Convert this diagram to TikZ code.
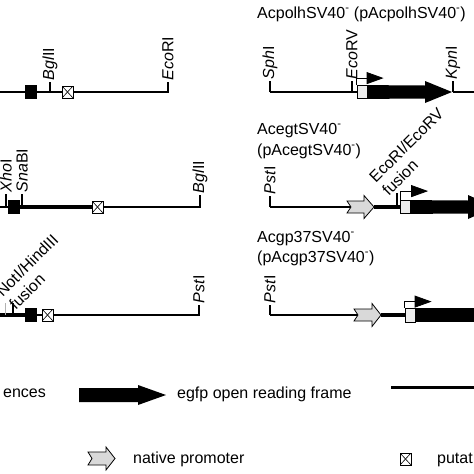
\documentclass[tikz,border=0pt]{standalone}
\usepackage{fontspec}
\setmainfont{Liberation Sans}
\usetikzlibrary{positioning, arrows.meta}

\begin{document}
\begin{tikzpicture}[x=1pt, y=-1pt, font=\fontsize{16}{18.5}\selectfont,
        map/.style={line width=1.6pt},
        thick map/.style={line width=3.5pt},
        site/.style={rotate=90, anchor=west, inner sep=1pt},
        fusion/.style={rotate=45, anchor=south west, align=left, inner sep=0pt},
        title/.style={anchor=base west, inner sep=0pt},
        blkbox/.style={rectangle, draw, fill=black, minimum width=11pt, minimum height=13pt, inner sep=0pt},
        leadbox/.style={rectangle, draw, line width=0.8pt, fill=gray!15, minimum width=10pt, minimum height=13pt, inner sep=0pt},
        termbox/.style={rectangle, draw, line width=0.8pt, fill=white, minimum width=11pt, minimum height=12pt, inner sep=0pt,
            path picture={\draw[line width=0.6pt] (path picture bounding box.south west) -- (path picture bounding box.north east)
                (path picture bounding box.north west) -- (path picture bounding box.south east);}},
        promo/.style={draw, line width=0.8pt, fill=gray!30},
        start/.style={line width=0.8pt, -{Triangle[length=17pt, width=12pt]}}]
        \useasboundingbox (0,0) rectangle (474,474);
        \clip (0,0) rectangle (474,474);

        % row 1, left
        \coordinate (r1a) at (0,92);
        \node at (30.5,92) [blkbox] (blk1) {};
        \coordinate (bgl1) at (50,92);
        \node at (67.5,92) [termbox] (term1) {};
        \coordinate (eco1) at (168,92);
        \draw[map] (r1a) -- (blk1) -- (term1) -- (eco1) -- ++(0,-10) node[site]{\textit{Eco}RI};
        \draw[map] (bgl1) -- ++(0,-10) node[site]{\textit{Bgl}II};

        % row 1, right
        \node at (257,18) [title] (t1) {AcpolhSV40\textsuperscript{-} (pAcpolhSV40\textsuperscript{-})};
        \coordinate (sph) at (270,92);
        \coordinate (ecv) at (352,92);
        \node at (362,92) [leadbox] (lead1) {};
        \coordinate (kpn) at (453,92);
        \coordinate (r1end) at (474,92);
        \draw[map] (sph) -- ++(0,-11) node[site]{\textit{Sph}I};
        \draw[map] (sph) -- (lead1);
        \draw[map] (ecv) -- ++(0,-11) node[site]{\textit{Eco}RV};
        \draw[start] (lead1.north west) -- ++(0,-7) -- ++(27,0);
        \fill (lead1.north east) -- (425,85.5) -- (425,81) -- (452,92) -- (425,103) -- (425,98.5) -- (lead1.south east) -- cycle;
        \draw[map] (kpn) -- ++(0,-11) node[site]{\textit{Kpn}I};
        \draw[line width=2.5pt] (kpn) -- (r1end);

        % row 2, left
        \coordinate (r2a) at (0,207);
        \coordinate (xho) at (6,207);
        \node at (13.5,207) [blkbox] (blk2) {};
        \coordinate (sna) at (22,207);
        \node at (97.5,207) [termbox] (term2) {};
        \coordinate (bgl2) at (200,207);
        \draw[map] (r2a) -- (blk2);
        \draw[map] (xho) -- ++(0,-13) node[site]{\textit{Xho}I};
        \draw[map] (sna) -- ++(0,-13) node[site]{\textit{Sna}BI};
        \draw[thick map] (blk2) -- (term2);
        \draw[map] (term2) -- (bgl2) -- ++(0,-12) node[site]{\textit{Bgl}II};

        % row 2, right
        \node at (257,134) [title] (t2a) {AcegtSV40\textsuperscript{-}};
        \node at (257,155) [title] (t2b) {(pAcegtSV40\textsuperscript{-})};
        \coordinate (pst2) at (270,207);
        \coordinate (prom2) at (347,207);
        \coordinate (tip2) at (374,207);
        \coordinate (fus2) at (397,207);
        \node at (405.5,207) [leadbox] (lead2) {};
        \draw[map] (pst2) -- ++(0,-11) node[site]{\textit{Pst}I};
        \draw[map] (pst2) -- ([xshift=4pt]prom2);
        \draw[promo] (prom2) ++(0,-6) -- ++(17,0) -- ++(0,-5.5) -- ++(10,11.5) -- ++(-10,11.5) -- ++(0,-5.5) -- ++(-17,0) -- ++(4,-6) -- cycle;
        \draw[thick map] (tip2) -- (lead2);
        \draw[map] (fus2) -- ++(0,-14);
        \node at (389,197) [fusion] (fl2) {EcoRI/EcoRV\\fusion};
        \draw[start] (lead2.north west) -- ++(0,-9) -- ++(28,0);
        \fill (lead2.north east) -- (468,200.5) -- (468,195) -- (495,207) -- (468,219) -- (468,213.5) -- (lead2.south east) -- cycle;

        % row 3, left
        \coordinate (r3a) at (0,315);
        \coordinate (gap3) at (5,315);
        \coordinate (fus3) at (13,315);
        \node at (30.5,315) [blkbox] (blk3) {};
        \node at (47.5,315) [termbox] (term3) {};
        \coordinate (pst3) at (199,315);
        \draw[thick map] (r3a) -- (blk3);
        \draw[gray!60, line width=1pt] (gap3) -- ++(0,-12);
        \draw[map] (fus3) -- ++(0,-12);
        \node at (16,311) [fusion] (fl3) {NotI/HindIII\\fusion};
        \draw[map] (blk3) -- (term3) -- (pst3) -- ++(0,-10) node[site]{\textit{Pst}I};

        % row 3, right
        \node at (257,242) [title] (t3a) {Acgp37SV40\textsuperscript{-}};
        \node at (257,262) [title] (t3b) {(pAcgp37SV40\textsuperscript{-})};
        \coordinate (pst4) at (270,315);
        \coordinate (prom3) at (354,315);
        \coordinate (tip3) at (381,315);
        \node at (410,315) [leadbox, minimum height=14pt] (lead3) {};
        \draw[map] (pst4) -- ++(0,-10) node[site]{\textit{Pst}I};
        \draw[map] (pst4) -- ([xshift=4pt]prom3);
        \draw[promo] (prom3) ++(0,-6) -- ++(18,0) -- ++(0,-5.5) -- ++(9,11.5) -- ++(-9,11.5) -- ++(0,-5.5) -- ++(-18,0) -- ++(4,-6) -- cycle;
        \draw[thick map] (tip3) -- (lead3);
        \draw[start] (lead3.north west) -- ++(0,-6) -- ++(27,0);
        \fill (lead3.north east) rectangle (480,322);

        % legend
        \node at (3,397) [title] (lg1) {ences};
        \fill (79,388) -- (138,388) -- (138,385) -- (166,395) -- (138,405) -- (138,402) -- (79,402) -- cycle;
        \node at (177,398) [title] (lg2) {egfp open reading frame};
        \coordinate (lgl) at (391,387);
        \coordinate (lgr) at (474,387);
        \draw[line width=3pt] (lgl) -- (lgr);
        \coordinate (prom4) at (88,458.5);
        \draw[promo] (prom4) ++(0,-6.5) -- ++(18,0) -- ++(0,-5) -- ++(9,11.5) -- ++(-9,11.5) -- ++(0,-5) -- ++(-18,0) -- ++(4,-6.5) -- cycle;
        \node at (133,463) [title] (lg3) {native promoter};
        \node at (405.5,459) [termbox] (lg4) {};
        \node at (437,463) [title] (lg5) {putat};
    \end{tikzpicture}
\end{document}
